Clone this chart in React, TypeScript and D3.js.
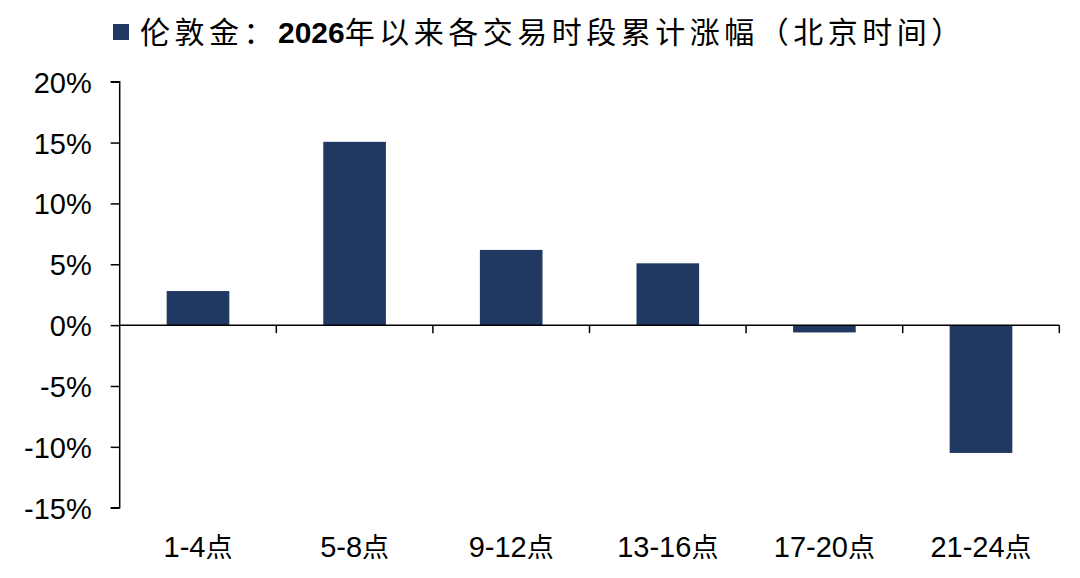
import React, { useEffect, useRef } from "react";
import * as d3 from "d3";

const categories: string[] = ["1-4点", "5-8点", "9-12点", "13-16点", "17-20点", "21-24点"];
const values: number[] = [2.8, 15.06, 6.18, 5.08, -0.6, -10.5];
const yTicks: number[] = [-15, -10, -5, 0, 5, 10, 15, 20];

const WIDTH = 1080;
const HEIGHT = 578;
const BAR_COLOR = "#213862";
const FONT = "'Liberation Sans', Arial, 'Noto Sans CJK SC', sans-serif";

const App: React.FC = () => {
  const ref = useRef<SVGSVGElement>(null);

  useEffect(() => {
    if (!ref.current) return;
    document.body.style.margin = "0";
    const svg = d3.select(ref.current);
    svg.selectAll("*").remove();

    const left = 119.7;
    const right = 1059.3;
    const top = 81.7;
    const bottom = 507.7;

    const y = d3.scaleLinear().domain([-15, 20]).range([bottom, top]);
    const x = d3
      .scaleBand<string>()
      .domain(categories)
      .range([left, right])
      .paddingInner(0.6)
      .paddingOuter(0.3);

    // title with legend swatch
    svg
      .append("rect")
      .attr("x", 113)
      .attr("y", 24)
      .attr("width", 16)
      .attr("height", 16)
      .attr("fill", BAR_COLOR);

    const title = svg
      .append("text")
      .attr("x", 140)
      .attr("y", 43)
      .style("font-size", "30px")
      .style("font-family", FONT)
      .attr("fill", "#000");
    title.append("tspan").text("伦敦金：").style("letter-spacing", "4.5px");
    title.append("tspan").text("2026").style("font-weight", "bold");
    title
      .append("tspan")
      .text("年以来各交易时段累计涨幅（北京时间）")
      .style("letter-spacing", "4.5px");

    // bars
    svg
      .append("g")
      .selectAll("rect")
      .data(values)
      .enter()
      .append("rect")
      .attr("x", (_, i) => x(categories[i]) as number)
      .attr("width", x.bandwidth())
      .attr("y", (d) => y(Math.max(0, d)))
      .attr("height", (d) => Math.abs(y(d) - y(0)))
      .attr("fill", BAR_COLOR);

    // y axis
    const yAxis = svg
      .append("g")
      .attr("transform", `translate(${left},0)`)
      .call(
        d3
          .axisLeft(y)
          .tickValues(yTicks)
          .tickSize(9)
          .tickPadding(19)
          .tickFormat((d) => `${d}%`)
      );
    yAxis.select(".domain").attr("stroke", "#000").attr("stroke-width", 1.5).attr("d", `M-9,${top}H0V${bottom}H-9`);
    yAxis.selectAll(".tick line").attr("stroke", "#000").attr("stroke-width", 1.5);
    yAxis
      .selectAll(".tick text")
      .attr("fill", "#000")
      .attr("dy", "0.36em")
      .style("font-size", "29px")
      .style("font-family", FONT);

    // zero line + category boundary ticks
    const y0 = y(0);
    svg
      .append("line")
      .attr("x1", left)
      .attr("x2", right)
      .attr("y1", y0)
      .attr("y2", y0)
      .attr("stroke", "#000")
      .attr("stroke-width", 1.5);
    svg
      .append("g")
      .selectAll("line")
      .data(d3.range(1, categories.length + 1))
      .enter()
      .append("line")
      .attr("x1", (i) => left + i * x.step())
      .attr("x2", (i) => left + i * x.step())
      .attr("y1", y0)
      .attr("y2", y0 + 8)
      .attr("stroke", "#000")
      .attr("stroke-width", 1.5);

    // category labels: digits in Arial-like, 点 a little smaller
    const labels = svg
      .append("g")
      .selectAll("text")
      .data(categories)
      .enter()
      .append("text")
      .attr("x", (d) => (x(d) as number) + x.bandwidth() / 2)
      .attr("y", 557)
      .attr("text-anchor", "middle")
      .style("font-size", "29px")
      .style("font-family", FONT)
      .attr("fill", "#000");
    labels.append("tspan").text((d) => d.slice(0, -1));
    labels
      .append("tspan")
      .style("font-size", "27px")
      .text((d) => d.slice(-1));
  }, []);

  return (
    <svg
      ref={ref}
      width={WIDTH}
      height={HEIGHT}
      style={{ display: "block", background: "#fff" }}
    />
  );
};

export default App;
